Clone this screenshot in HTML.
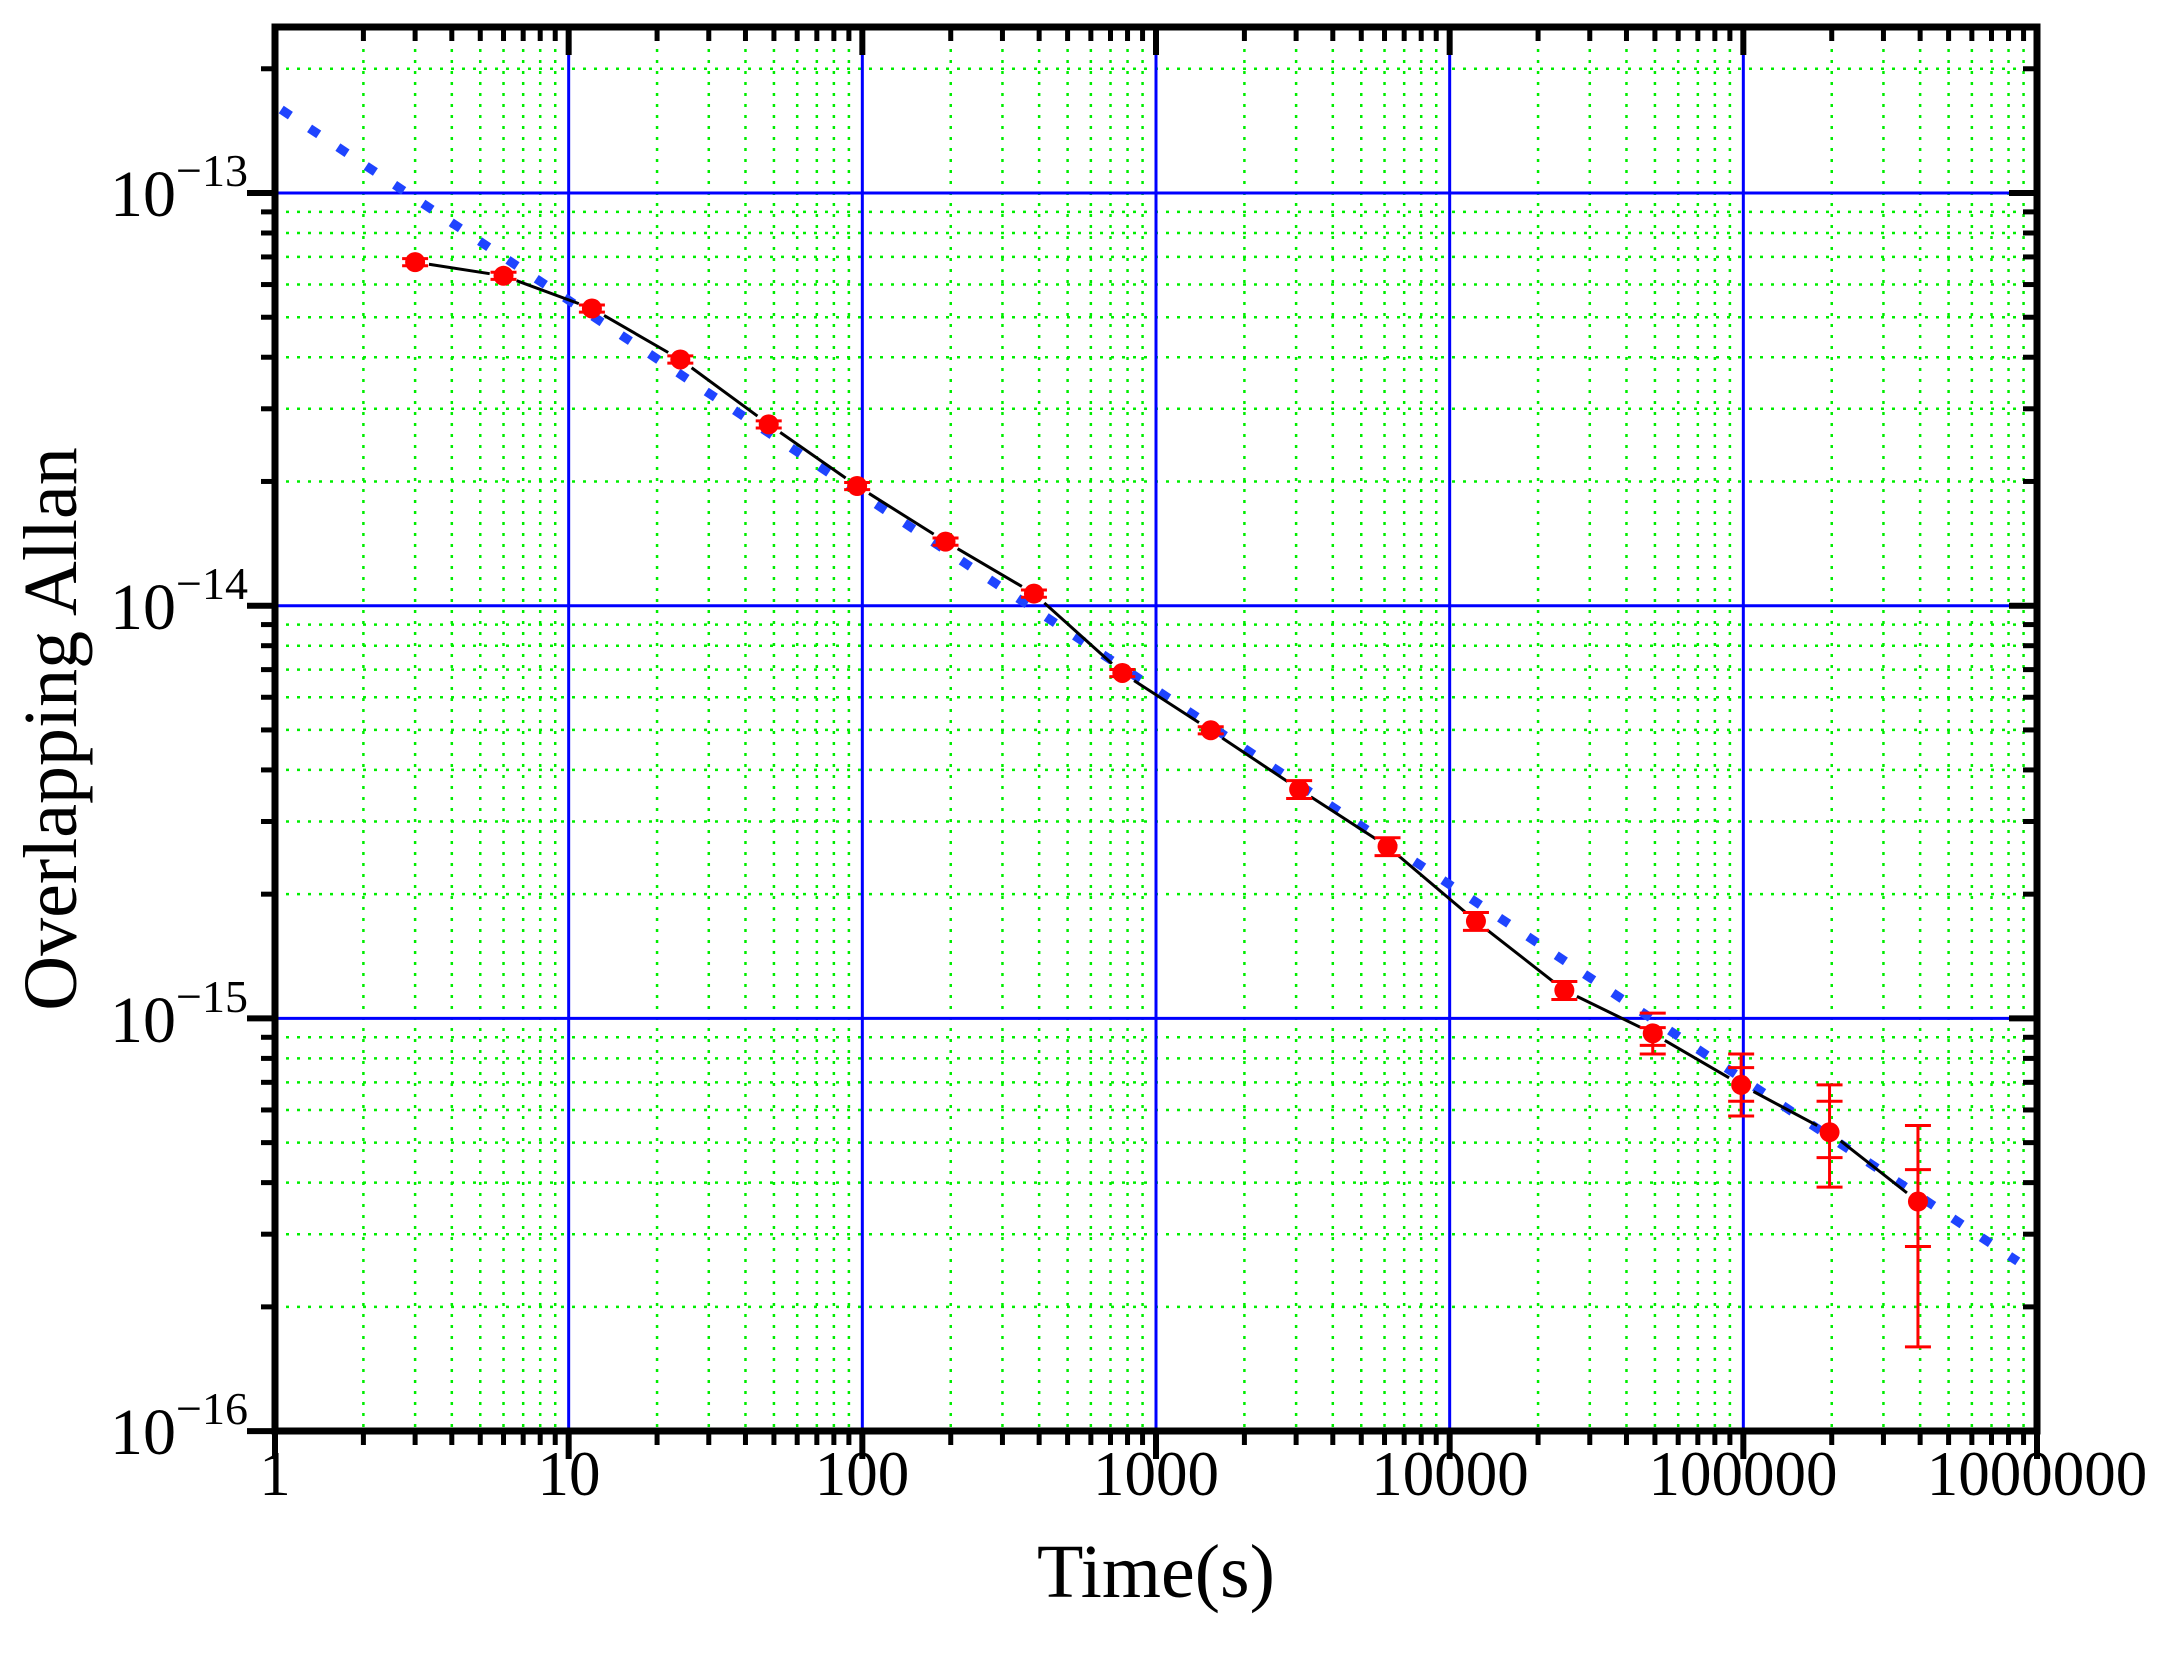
<!DOCTYPE html>
<html><head><meta charset="utf-8"><style>
html,body{margin:0;padding:0;background:#fff}
svg{display:block}
text{font-family:"Liberation Serif",serif;fill:#000}
</style></head><body>
<svg id="s" width="2158" height="1670" viewBox="0 0 2158 1670" xmlns="http://www.w3.org/2000/svg">
<g id="grid"></g>
<g id="data"></g>
<g id="axes"></g>
<g font-size="63">
<text x="275" y="1495" text-anchor="middle">1</text>
<text x="569" y="1495" text-anchor="middle">10</text>
<text x="862" y="1495" text-anchor="middle">100</text>
<text x="1156" y="1495" text-anchor="middle">1000</text>
<text x="1450" y="1495" text-anchor="middle">10000</text>
<text x="1743" y="1495" text-anchor="middle">100000</text>
<text x="2037" y="1495" text-anchor="middle">1000000</text>
</g>
<g font-size="66">
<text x="110" y="216">10<tspan font-size="46" dy="-30">−13</tspan></text>
<text x="110" y="629">10<tspan font-size="46" dy="-30">−14</tspan></text>
<text x="110" y="1042">10<tspan font-size="46" dy="-30">−15</tspan></text>
<text x="110" y="1454">10<tspan font-size="46" dy="-30">−16</tspan></text>
</g>
<text x="1156" y="1597" font-size="76" text-anchor="middle">Time(s)</text>
<text transform="translate(76,729) rotate(-90)" font-size="76" text-anchor="middle">Overlapping Allan</text>
</svg>
<script>
var NS="http://www.w3.org/2000/svg";
var L=275,R=2037,T=27,B=1431,DX=(R-L)/6,DY=412.7,Y13=193;
function X(t){return L+Math.log10(t)*DX}
function Y(s){return Y13-(Math.log10(s)+13)*DY}
function el(p,tag,a){var e=document.createElementNS(NS,tag);for(var k in a)e.setAttribute(k,a[k]);p.appendChild(e);return e}
var g=document.getElementById('grid'),ax=document.getElementById('axes'),d=document.getElementById('data');
for(var dd=0;dd<6;dd++)for(var m=2;m<=9;m++){var x=X(m*Math.pow(10,dd));
 el(g,'line',{x1:x,y1:T,x2:x,y2:B,stroke:'#00ee00','stroke-width':2.5,'stroke-dasharray':'3 8'});
 el(ax,'line',{x1:x,y1:B,x2:x,y2:B+14,stroke:'#000','stroke-width':5});
 el(ax,'line',{x1:x,y1:T,x2:x,y2:T+14,stroke:'#000','stroke-width':5});}
for(var e=-16;e<=-13;e++)for(var m=2;m<=9;m++){var s=m*Math.pow(10,e);var y=Y(s);if(y<T)continue;
 el(g,'line',{x1:L,y1:y,x2:R,y2:y,stroke:'#00ee00','stroke-width':2.5,'stroke-dasharray':'3 8'});
 el(ax,'line',{x1:L,y1:y,x2:L-14,y2:y,stroke:'#000','stroke-width':5});
 el(ax,'line',{x1:R,y1:y,x2:R-14,y2:y,stroke:'#000','stroke-width':5});}
for(var dd=1;dd<6;dd++){var x=X(Math.pow(10,dd));el(g,'line',{x1:x,y1:T,x2:x,y2:B,stroke:'#0000ff','stroke-width':3});}
for(var e=-15;e<=-13;e++){var y=Y(Math.pow(10,e));el(g,'line',{x1:L,y1:y,x2:R,y2:y,stroke:'#0000ff','stroke-width':3});}
for(var dd=0;dd<=6;dd++){var x=X(Math.pow(10,dd));
 el(ax,'line',{x1:x,y1:B,x2:x,y2:B+28,stroke:'#000','stroke-width':6});
 el(ax,'line',{x1:x,y1:T,x2:x,y2:T+28,stroke:'#000','stroke-width':6});}
for(var e=-16;e<=-13;e++){var y=Y(Math.pow(10,e));
 el(ax,'line',{x1:L,y1:y,x2:L-28,y2:y,stroke:'#000','stroke-width':6});
 el(ax,'line',{x1:R,y1:y,x2:R-28,y2:y,stroke:'#000','stroke-width':6});}
el(ax,'rect',{x:L,y:T,width:R-L,height:B-T,fill:'none',stroke:'#000','stroke-width':7});
var k=-0.472,c=1.63e-13;
el(d,'line',{x1:X(1.05),y1:Y(c*Math.pow(1.05,k)),x2:X(8.6e5),y2:Y(c*Math.pow(8.6e5,k)),stroke:'#1f44ff','stroke-width':9,'stroke-dasharray':'11 23'});
var sig=[6.8e-14,6.3e-14,5.25e-14,3.95e-14,2.75e-14,1.95e-14,1.43e-14,1.07e-14,6.87e-15,4.99e-15,3.59e-15,2.61e-15,1.72e-15,1.17e-15,9.2e-16,6.9e-16,5.3e-16,3.6e-16];
var pts=sig.map(function(s,i){return [X(3*Math.pow(2,i)),Y(s)]});
for(var i=0;i<pts.length-1;i++){var a=pts[i],b=pts[i+1],dx=b[0]-a[0],dy=b[1]-a[1],l=Math.hypot(dx,dy),g2=14;
 el(d,'line',{x1:a[0]+dx/l*g2,y1:a[1]+dy/l*g2,x2:b[0]-dx/l*g2,y2:b[1]-dy/l*g2,stroke:'#000','stroke-width':3});}
var eb={14:[[0.95e-15,0.82e-15],[1.03e-15,0.86e-15]],15:[[8.2e-16,5.8e-16],[7.6e-16,6.3e-16]],16:[[6.9e-16,3.9e-16],[6.3e-16,4.6e-16]],17:[[5.5e-16,1.6e-16],[4.3e-16,2.8e-16]]};
pts.forEach(function(p,i){
 var hw=13;
 if(eb[i]){var o=eb[i][0],n=eb[i][1];
  el(d,'line',{x1:p[0],y1:Y(o[0]),x2:p[0],y2:Y(o[1]),stroke:'#f00','stroke-width':3});
  [o[0],o[1],n[0],n[1]].forEach(function(v){var y=Y(v);el(d,'line',{x1:p[0]-hw,y1:y,x2:p[0]+hw,y2:y,stroke:'#f00','stroke-width':3});});
 } else {
  var e2=i>=10?0.05:0.02;var y1=Y(sig[i]*(1+e2)),y2=Y(sig[i]*(1-e2));
  el(d,'line',{x1:p[0],y1:y1,x2:p[0],y2:y2,stroke:'#f00','stroke-width':3});
  el(d,'line',{x1:p[0]-hw,y1:y1,x2:p[0]+hw,y2:y1,stroke:'#f00','stroke-width':3});
  el(d,'line',{x1:p[0]-hw,y1:y2,x2:p[0]+hw,y2:y2,stroke:'#f00','stroke-width':3});
 }
 el(d,'circle',{cx:p[0],cy:p[1],r:10,fill:'#f00'});
});
</script>
</body></html>
